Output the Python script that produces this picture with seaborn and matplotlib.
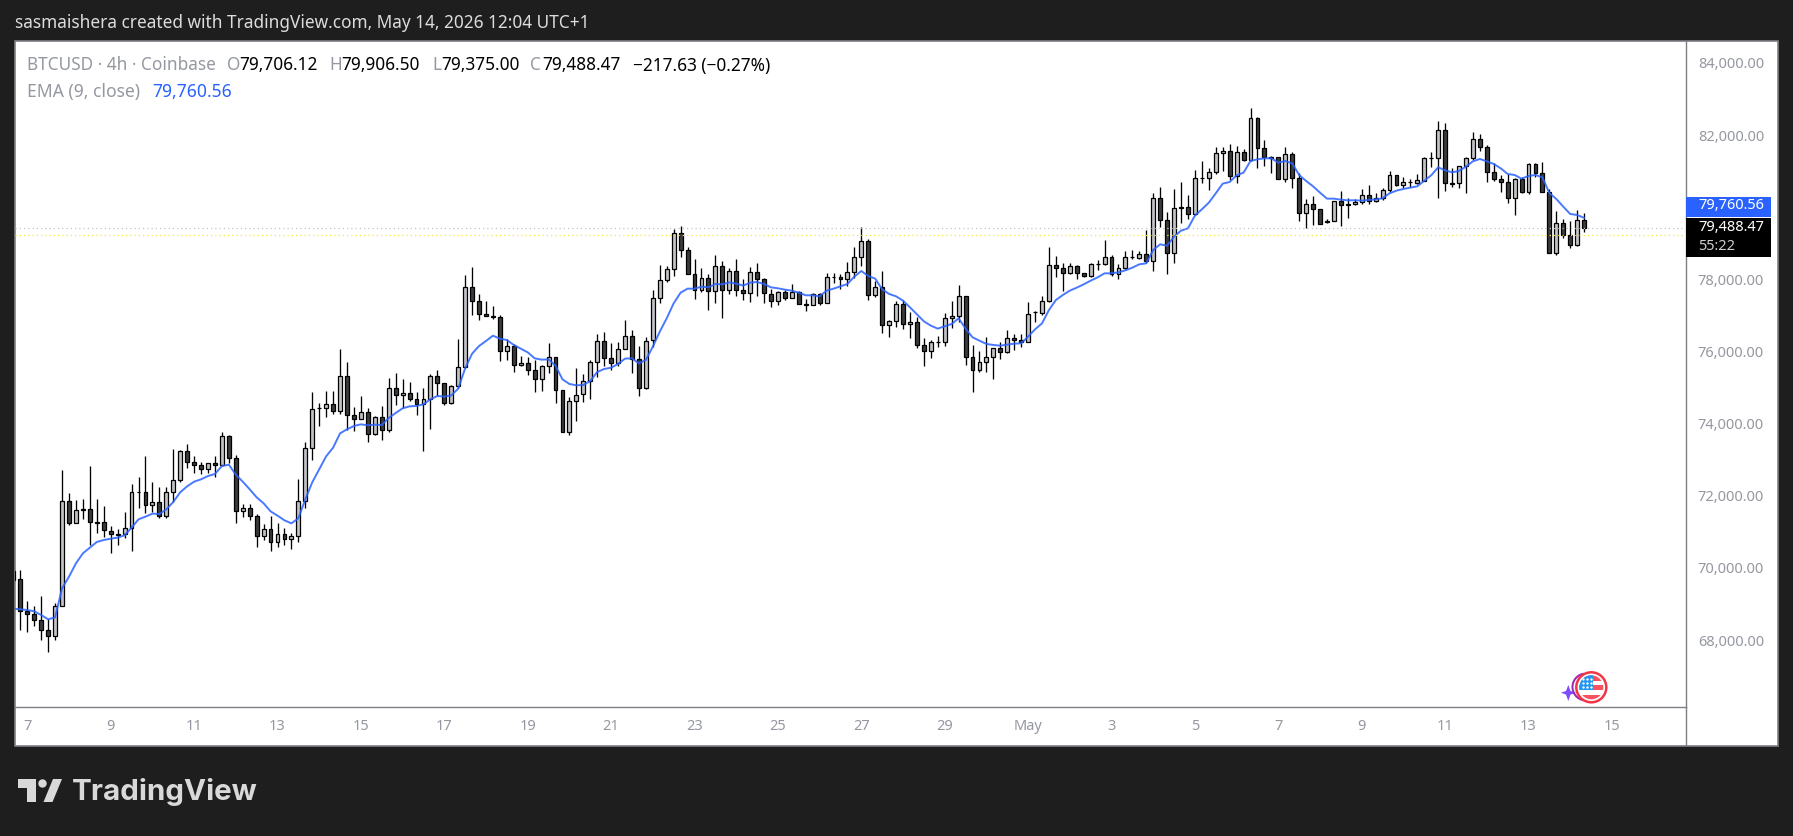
import numpy as np
import pandas as pd
import seaborn as sns
import matplotlib.pyplot as plt
from matplotlib.patches import Rectangle, Circle, Polygon, Wedge
from matplotlib.transforms import ScaledTranslation

# BTCUSD 4h candles, first bar is partly cut off on the left
opens = [69972, 69741, 68854, 68771, 68604, 68327, 68161, 68992, 71903, 71293,
         71681, 71681, 71321, 71321, 71071, 70988, 70988, 71155, 72150, 72153,
         71792, 71875, 71487, 72153, 72485, 73289, 72984, 72901, 72790, 72956,
         72901, 73705, 73095, 71626, 71709, 71487, 70933, 71127, 70767, 70988,
         70850, 70933, 71903, 73372, 74480, 74481, 74592, 74398, 75368, 74287,
         74176, 74370, 73760, 74232, 73871, 75035, 74841, 74897, 74730, 74592,
         74730, 75368, 75174, 74620, 75091, 75618, 77835, 77447, 77087, 77030,
         77004, 76061, 76200, 75673, 75728, 75534, 75285, 75645, 75895, 74980,
         73816, 74675, 74869, 75229, 75756, 76338, 75867, 75728, 76116, 76477,
         75839, 75035, 76366, 77530, 78029, 78334, 79332, 78861, 78196, 77752,
         78085, 77724, 78417, 77752, 78279, 77752, 77669, 78251, 78057, 77641,
         77447, 77697, 77530, 77697, 77364, 77336, 77641, 77392, 78113, 78113,
         78057, 78251, 78667, 79110, 77614, 77835, 76782, 76893, 77364, 76810,
         76865, 76228, 76061, 76311, 76311, 76976, 77031, 77586, 75895, 75535,
         75756, 75895, 76144, 76034, 76422, 76366, 76311, 77142, 77114, 77447,
         78445, 78362, 78223, 78417, 78223, 78140, 78473, 78473, 78667, 78195,
         78362, 78667, 78639, 78750, 78556, 80302, 79692, 78778, 80040, 80053,
         79859, 80857, 80857, 81023, 81550, 81605, 80912, 81577, 81356, 82520,
         81688, 81439, 81439, 80829, 81522, 80857, 79886, 80136, 79997, 79665,
         79665, 80219, 80136, 80136, 80191, 80385, 80219, 80302, 80524, 80940,
         80663, 80746, 80718, 80773, 81411, 81411, 82187, 80718, 80718, 81189,
         81411, 81938, 81716, 81023, 80829, 80746, 80302, 80829, 80469, 81245,
         80995, 80469, 78778, 79609, 79277, 78999, 79706.12]
highs = [70055, 70000, 69140, 69002, 69279, 68632, 69076, 72772, 72125, 71940,
         71968, 72882, 71968, 71764, 71210, 71127, 71607, 72374, 72568, 73160,
         72430, 72291, 72291, 73344, 73317, 73483, 73160, 72984, 72956, 73150,
         73816, 73733, 73178, 71820, 71820, 71543, 71265, 71487, 71293, 71155,
         71016, 72513, 73539, 74925, 74620, 74952, 74952, 76116, 75756, 74509,
         74823, 74481, 74278, 74546, 75313, 75451, 75285, 75202, 74925, 75035,
         75423, 75534, 75174, 75119, 76394, 78168, 78390, 77641, 77447, 77308,
         77059, 76394, 76255, 75922, 75895, 75812, 75673, 76283, 75895, 74980,
         74786, 75599, 75423, 75812, 76532, 76588, 76283, 76311, 76920, 76643,
         76200, 76449, 77752, 78445, 78417, 79443, 79526, 78944, 78611, 78362,
         78196, 78722, 78556, 78362, 78611, 78057, 78390, 78501, 78085, 77780,
         77724, 77752, 77918, 77724, 77503, 77669, 77669, 78223, 78223, 78196,
         78538, 78944, 79499, 79166, 78002, 78279, 76921, 77447, 77475, 77142,
         77004, 76422, 76366, 76477, 77115, 77447, 77891, 77586, 76228, 76061,
         76449, 76144, 76311, 76643, 76532, 76532, 77419, 77170, 77586, 78944,
         78704, 78500, 78500, 78445, 78223, 78500, 78593, 79138, 78722, 78482,
         78833, 78861, 78833, 79424, 80441, 80607, 79914, 80552, 80746, 80385,
         81078, 81328, 81134, 81716, 81716, 81799, 81744, 81660, 82797, 82548,
         81910, 81470, 81439, 81716, 81577, 80995, 80274, 80358, 80010, 79720,
         80219, 80496, 80302, 80274, 80552, 80663, 80441, 80579, 81051, 80940,
         80884, 80829, 80967, 81439, 81577, 82437, 82381, 81134, 81189, 81439,
         82132, 82076, 81771, 81272, 80940, 80967, 80857, 80884, 81272, 81272,
         81300, 80552, 79942, 79720, 79665, 79970, 79906.50]
lows = [69538, 68336, 68290, 68447, 68068, 67736, 68068, 68992, 71256, 71293,
        71423, 70702, 71034, 70924, 70480, 70702, 70896, 70536, 71727, 71570,
        71598, 71450, 71450, 71894, 72430, 72818, 72698, 72661, 72698, 72587,
        72873, 72975, 71312, 71460, 71395, 70646, 70840, 70536, 70646, 70702,
        70591, 70785, 71727, 73058, 74001, 74232, 74315, 74315, 73880, 73862,
        74176, 73557, 73733, 73612, 73816, 74564, 74481, 74675, 74305, 73308,
        73917, 74823, 74583, 74592, 75035, 75590, 77059, 76939, 77031, 76948,
        75802, 75830, 75497, 75645, 75405, 74943, 74971, 75470, 74638, 73816,
        73751, 74139, 74666, 74749, 75340, 75664, 75534, 75645, 76116, 75451,
        74832, 75008, 76172, 77392, 77974, 78149, 78685, 78196, 77521, 77697,
        77216, 77410, 76994, 77660, 77604, 77493, 77438, 77604, 77410, 77299,
        77355, 77493, 77530, 77364, 77189, 77336, 77355, 77392, 77965, 77798,
        77882, 78085, 78417, 77493, 77577, 76579, 76468, 76745, 76690, 76440,
        76144, 75664, 75886, 76191, 76200, 76699, 76884, 75692, 74943, 75479,
        75479, 75304, 75858, 76006, 76089, 76172, 76311, 76865, 77059, 77419,
        78131, 77743, 78195, 78057, 78112, 78112, 78316, 78445, 78140, 78075,
        78334, 78611, 78611, 78500, 78297, 79498, 78214, 78519, 79628, 79739,
        79831, 80718, 80524, 80967, 81069, 80801, 80718, 81328, 81328, 81134,
        81189, 80995, 80829, 80746, 80579, 79683, 79471, 79563, 79581, 79609,
        79665, 79535, 79748, 80108, 80136, 80136, 80191, 80247, 80469, 80635,
        80579, 80607, 80690, 80773, 81162, 80302, 80515, 80626, 80579, 80441,
        81356, 81605, 80746, 80773, 80487, 80164, 79831, 80441, 80413, 80884,
        80469, 78778, 78722, 79193, 78916, 78972, 79375.00]
closes = [69722, 68854, 68771, 68604, 68327, 68161, 68992, 71903, 71293, 71654,
          71654, 71321, 71310, 71099, 70988, 70980, 71155, 72153, 72160, 71792,
          71875, 71487, 72153, 72485, 73289, 72984, 72901, 72790, 72956, 72901,
          73705, 73095, 71626, 71709, 71487, 70933, 71127, 70767, 70988, 70850,
          70933, 71903, 73372, 74453, 74490, 74592, 74398, 75368, 74287, 74176,
          74370, 73760, 74232, 73871, 75035, 74841, 74897, 74730, 74592, 74730,
          75368, 75174, 74620, 75091, 75618, 77835, 77447, 77087, 77031, 77015,
          76061, 76200, 75673, 75728, 75534, 75285, 75645, 75895, 74980, 73816,
          74675, 74841, 75229, 75756, 76338, 75867, 75728, 76116, 76477, 75839,
          75035, 76338, 77530, 78029, 78334, 79332, 78861, 78196, 77752, 78085,
          77724, 78417, 77752, 78279, 77752, 77669, 78251, 78057, 77669, 77447,
          77697, 77530, 77697, 77364, 77350, 77641, 77392, 78113, 78120, 78057,
          78251, 78667, 79110, 77614, 77835, 76782, 76893, 77364, 76810, 76865,
          76228, 76061, 76311, 76320, 76976, 77031, 77586, 75895, 75535, 75756,
          75895, 76144, 76034, 76422, 76366, 76311, 77087, 77150, 77447, 78445,
          78362, 78223, 78417, 78223, 78140, 78473, 78480, 78667, 78195, 78362,
          78667, 78675, 78750, 78556, 80302, 79692, 78778, 80025, 80053, 79859,
          80857, 80865, 81023, 81550, 81605, 80912, 81577, 81356, 82520, 81688,
          81439, 81430, 80829, 81522, 80857, 79886, 80136, 79997, 79581, 79655,
          80219, 80108, 80125, 80191, 80385, 80219, 80302, 80524, 80940, 80663,
          80746, 80755, 80801, 81411, 81420, 82187, 80718, 80710, 81189, 81411,
          81938, 81716, 81023, 80829, 80746, 80302, 80829, 80469, 81245, 80995,
          80469, 78778, 79609, 79277, 78999, 79692, 79488.47]
ema9 = [68928, 68909, 68891, 68854, 68752, 68632, 68688, 69491, 69815, 70184,
        70462, 70619, 70776, 70831, 70868, 70896, 70961, 71173, 71404, 71478,
        71561, 71552, 71681, 71885, 72153, 72319, 72448, 72513, 72605, 72661,
        72882, 72919, 72642, 72448, 72236, 72014, 71848, 71626, 71506, 71376,
        71293, 71432, 71958, 72430, 72790, 73150, 73391, 73788, 73899, 73991,
        74037, 74010, 74028, 74019, 74213, 74352, 74481, 74536, 74546, 74592,
        74730, 74823, 74804, 74841, 75026, 75590, 75996, 76209, 76347, 76495,
        76412, 76375, 76237, 76135, 76033, 75867, 75830, 75839, 75664, 75285,
        75156, 75119, 75128, 75239, 75488, 75571, 75608, 75710, 75858, 75867,
        75728, 75821, 76190, 76606, 76976, 77392, 77687, 77798, 77798, 77854,
        77835, 77928, 77918, 77974, 77937, 77882, 77965, 77983, 77928, 77835,
        77808, 77771, 77743, 77687, 77614, 77614, 77586, 77743, 77798, 77863,
        77928, 78131, 78288, 78149, 78076, 77780, 77651, 77586, 77466, 77281,
        77087, 76893, 76773, 76690, 76754, 76819, 76976, 76690, 76449, 76357,
        76265, 76237, 76218, 76246, 76274, 76283, 76468, 76671, 76837, 77207,
        77484, 77623, 77743, 77826, 77918, 78020, 78112, 78223, 78223, 78251,
        78306, 78380, 78473, 78500, 78870, 79027, 78990, 79240, 79406, 79471,
        79822, 79997, 80182, 80441, 80709, 80755, 80940, 81014, 81337, 81383,
        81411, 81411, 81291, 81337, 81272, 80949, 80783, 80635, 80459, 80293,
        80293, 80265, 80247, 80247, 80238, 80256, 80274, 80302, 80441, 80515,
        80561, 80598, 80635, 80792, 80940, 81162, 81078, 81023, 81060, 81180,
        81328, 81393, 81328, 81254, 81134, 80977, 80949, 80847, 80921, 80949,
        80884, 80450, 80284, 80071, 79868, 79840, 79760.56]

first_bar = -2
level_price = 79276
# 80,000 is hidden behind the price tags in the screenshot
y_ticks = [84000, 82000, 78000, 76000, 74000, 72000, 70000, 68000]
# one label every 2 days, 12 bars apart
date_labels = ["7", "9", "11", "13", "15", "17", "19", "21", "23", "25", "27", "29",
               "May", "3", "5", "7", "9", "11", "13", "15"]

bars = np.arange(first_bar, first_bar + len(closes))
df = pd.DataFrame({"bar": bars, "open": opens, "high": highs, "low": lows,
                   "close": closes, "ema": ema9})
df["top"] = df[["open", "close"]].max(axis=1)
df["bottom"] = df[["open", "close"]].min(axis=1)

sns.set_theme(style="white")
plt.rcParams["font.family"] = ["Noto Sans", "DejaVu Sans"]

W, H = 1793, 836
DARK = "#1e1e1e"
FRAME = "#7d7f85"
LABEL = "#9598a1"
BLUE = "#2962ff"

fig = plt.figure(figsize=(W / 100, H / 100), dpi=100, facecolor=DARK)

# pixel layer under the chart: white panel of the snapshot
back = fig.add_axes([0, 0, 1, 1], zorder=0)
back.set_xlim(0, W)
back.set_ylim(H, 0)
back.axis("off")
back.add_patch(Rectangle((15, 41), 1762.5, 704.5, facecolor="white", edgecolor=FRAME, linewidth=1.2))
back.plot([1686, 1686], [707, 745], color=FRAME, linewidth=1.0)

# main chart
ax = fig.add_axes([15 / W, 1 - 707 / H, (1686 - 15) / W, (707 - 41) / H], zorder=1)
ax.patch.set_alpha(0)
ax.vlines(df["bar"], df["low"], df["high"], color="black", linewidth=0.95, zorder=2)
ax.bar(df["bar"], df["top"] - df["bottom"], bottom=df["bottom"], width=0.56,
       color=["#c2c2c7" if c >= o else "#3b3b3b" for o, c in zip(df["open"], df["close"])],
       edgecolor="black", linewidth=0.9, zorder=3)
sns.lineplot(data=df, x="bar", y="ema", color=BLUE, linewidth=1.4, alpha=0.85, ax=ax, zorder=4)
ax.axhline(closes[-1], color="#c4c4c4", linewidth=0.9, linestyle=(0, (1, 2.4)), zorder=5)
ax.axhline(level_price, color="#f5e63c", linewidth=0.9, linestyle=(0, (1, 2.4)), zorder=5)

ax.set_xlim(-1.77, 238.66)
ax.set_ylim(66202, 84663)
ax.set_xlabel("")
ax.set_ylabel("")
ax.set_xticks(np.arange(len(date_labels)) * 12)
ax.set_xticklabels(date_labels)
ax.yaxis.tick_right()
ax.set_yticks(y_ticks)
ax.set_yticklabels([f"{v:,.2f}" for v in y_ticks])
ax.tick_params(axis="x", length=0, pad=8.5, labelsize=10.5, labelcolor=LABEL)
ax.tick_params(axis="y", length=0, pad=8.5, labelsize=10.5, labelcolor=LABEL)
ax.get_xticklabels()[date_labels.index("May")].set_fontweight("bold")
# tick text sits about 2 px above the true price in the screenshot
nudge = ScaledTranslation(0, 2 / 100, fig.dpi_scale_trans)
for tick in ax.yaxis.get_major_ticks():
    tick.label2.set_transform(tick.label2.get_transform() + nudge)
for side in ["top", "left"]:
    ax.spines[side].set_visible(False)
for side in ["bottom", "right"]:
    ax.spines[side].set_color(FRAME)
    ax.spines[side].set_linewidth(1.0)

# pixel layer over the chart: header, legend, price tags, logo
over = fig.add_axes([0, 0, 1, 1], zorder=5)
over.set_xlim(0, W)
over.set_ylim(H, 0)
over.axis("off")
over.patch.set_alpha(0)

over.text(15, 23, "sasmaishera created with TradingView.com, May 14, 2026 12:04 UTC+1",
          color="#dcdcdc", fontsize=12.4, va="center", fontweight="medium")

legend_bits = [(27, "BTCUSD · 4h · Coinbase", LABEL), (226.5, "O", LABEL), (239.5, "79,706.12", "black"),
               (329, "H", LABEL), (341.5, "79,906.50", "black"), (432, "L", LABEL),
               (441.5, "79,375.00", "black"), (530, "C", LABEL), (542, "79,488.47", "black"),
               (633, "−217.63 (−0.27%)", "black")]
for x, txt, col in legend_bits:
    over.text(x, 65.5, txt, color=col, fontsize=12.4, va="center")
over.text(27, 92, "EMA (9, close)", color=LABEL, fontsize=12.6, va="center")
over.text(152, 92, "79,760.56", color=BLUE, fontsize=12.6, va="center")

over.add_patch(Rectangle((1686, 197), 85, 20, facecolor=BLUE, edgecolor="none"))
over.add_patch(Rectangle((1686, 218), 85, 39, facecolor="black", edgecolor="none"))
over.text(1698.5, 205.5, "79,760.56", color="white", fontsize=10.5, va="center")
over.text(1698.5, 227.5, "79,488.47", color="white", fontsize=10.5, va="center")
over.text(1698.5, 246.5, "55:22", color="#cfcfcf", fontsize=10.5, va="center")

# TradingView logo
logo = "#d9d9d9"
over.add_patch(Polygon([(18, 779), (36, 779), (36, 802), (27, 802), (27, 788), (18, 788)], color=logo, lw=0))
over.add_patch(Circle((42.5, 783.5), 4.2, color=logo, lw=0))
over.add_patch(Polygon([(53, 779), (62, 779), (52.5, 802), (43.5, 802)], color=logo, lw=0))
over.text(72, 792.5, "TradingView", color=logo, fontsize=21.3, va="center", family="Inter", fontweight="bold")

# economic event badge
over.add_patch(Polygon([(1561, 692.7), (1566, 691), (1568.3, 685), (1570.5, 691), (1576, 692.7),
                        (1570.5, 694.6), (1568.3, 701), (1566, 694.6)], color="#7c4dff", lw=0))
over.add_patch(Wedge((1586, 687), 14.5, 100, 260, width=2, color="#9c27b0", lw=0))
over.add_patch(Circle((1591.3, 687.3), 15, facecolor="white", edgecolor="#f23645", linewidth=1.8))
clip = Circle((1591.3, 687.3), 12, transform=over.transData)
for y0, h0, col in [(675, 6, "#f7525f"), (685, 5, "#f7525f"), (695, 6, "#f7525f"), (675, 15, "#2196f3")]:
    w0 = 26 if col != "#2196f3" else 14
    r = Rectangle((1579, y0), w0, h0, facecolor=col, edgecolor="none")
    over.add_patch(r)
    r.set_clip_path(clip)
star_x = [1583, 1587, 1591]
star_y = [679, 683, 687]
over.scatter(np.repeat(star_x, 3), np.tile(star_y, 3), s=3, color="white", linewidths=0)

fig.savefig("out.png", dpi=100, facecolor=DARK)
